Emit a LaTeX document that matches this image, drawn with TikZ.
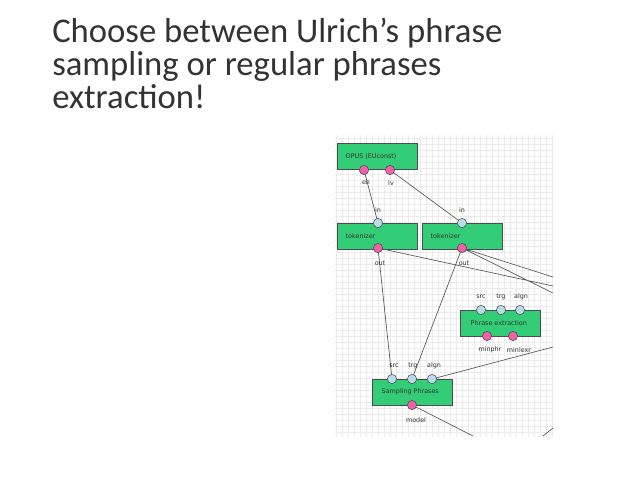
\documentclass[tikz,border=0pt]{standalone}
\usepackage{fontspec}
\setmainfont{Carlito}
\newfontfamily\uifont{DejaVu Sans}
\definecolor{boxg}{HTML}{33CC77}
\definecolor{pinkp}{HTML}{F060A8}
\definecolor{bluep}{HTML}{B8DCE8}
\begin{document}
\begin{tikzpicture}[x=0.75pt,y=-0.75pt,
 box/.style={draw=black!70,fill=boxg,minimum width=60pt,minimum height=19.5pt,inner sep=0pt},
 pin/.style={circle,draw=black!70,fill=pinkp,minimum size=7pt,inner sep=0pt},
 pout/.style={circle,draw=black!70,fill=bluep,minimum size=7pt,inner sep=0pt},
 lbl/.style={font=\uifont\fontsize{4.8}{5.5}\selectfont,text=black!80},
 wire/.style={draw=black!65,line width=0.5pt}]
\useasboundingbox (0,0) rectangle (638,478);
\fill[white] (0,0) rectangle (638,478);
\draw[black!8,line width=0.3pt,step=4.5pt] (335,135) grid (553,437);
\node[anchor=north west,align=left,font=\fontsize{26}{24.5}\selectfont,text=black!80,inner sep=0pt] (title) at (52,18) {Choose between Ulrich’s phrase\\sampling or regular phrases\\extraction!};
% boxes
\node[box] (opus) at (377,156.5) {};
\node[lbl,anchor=west] at (341,156) {OPUS (EUconst)};
\node[box] (tok1) at (377,236) {};
\node[lbl,anchor=west] at (341,236) {tokenizer};
\node[box] (tok2) at (462,236) {};
\node[lbl,anchor=west] at (426,236) {tokenizer};
\node[box] (pe) at (500.5,323) {};
\node[lbl,anchor=west] at (466,323) {Phrase extraction};
\node[box] (sp) at (412.5,392) {};
\node[lbl,anchor=west] at (377,392) {Sampling Phrases};
% coordinates
\coordinate (r1) at (553,277); \coordinate (r2) at (553,286); \coordinate (r3) at (553,293);
\coordinate (r4) at (553,347); \coordinate (b1) at (473,436); \coordinate (b2) at (543,436); \coordinate (b3) at (553,428);
\path (364,170) coordinate (en) (390,170) coordinate (lv)
 (378,223) coordinate (in1) (378,248) coordinate (out1)
 (462,223) coordinate (in2) (462,248) coordinate (out2)
 (392,379) coordinate (src) (412,379) coordinate (trg) (432,379) coordinate (algn)
 (412,405) coordinate (model);
\draw[wire] (en)--(in1) (lv)--(in2) (out1)--(src) (out2)--(trg) (out1)--(r2) (out2)--(r1) (out2)--(r3) (algn)--(r4) (model)--(b1) (b2)--(b3);
% ports
\node[pin] (pen) at (en) {}; \node[pin] (plv) at (lv) {};
\node[pout] (pin1) at (in1) {}; \node[pin] (pout1) at (out1) {};
\node[pout] (pin2) at (in2) {}; \node[pin] (pout2) at (out2) {};
\node[pout] (pesrc) at (481,310) {}; \node[pout] (petrg) at (501,310) {}; \node[pout] (pealgn) at (520,310) {};
\node[pin] (pemin) at (487,336) {}; \node[pin] (pelex) at (513,336) {};
\node[pout] (psrc) at (src) {}; \node[pout] (ptrg) at (trg) {}; \node[pout] (palgn) at (algn) {};
\node[pin] (pmodel) at (model) {};
% labels
\node[lbl] at (366,183) {en}; \node[lbl] at (391,183) {lv};
\node[lbl] at (378,210) {in}; \node[lbl] at (380,263) {out};
\node[lbl] at (462,210) {in}; \node[lbl] at (464,263) {out};
\node[lbl] at (481,297) {src}; \node[lbl] at (501,297) {trg}; \node[lbl] at (521,297) {algn};
\node[lbl] at (490,350) {minphr}; \node[lbl] at (519,350) {minlexr};
\node[lbl] at (394,366) {src}; \node[lbl] at (413,366) {trg}; \node[lbl] at (434,366) {algn};
\node[lbl] at (416,420) {model};
\end{tikzpicture}
\end{document}
